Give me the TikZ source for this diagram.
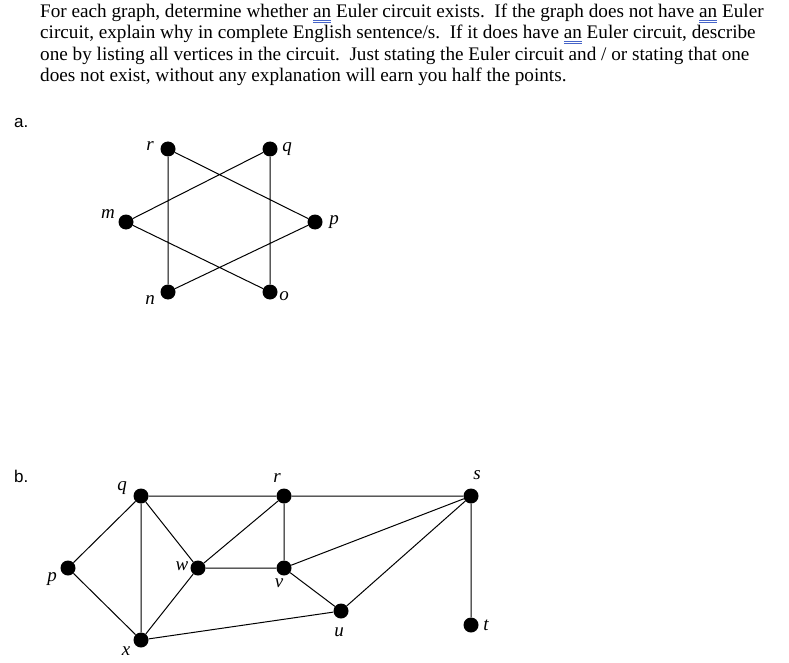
\documentclass[tikz,border=0pt]{standalone}
\usepackage{fontspec}
\setmainfont{Liberation Serif}
\newfontfamily\arialf{Liberation Sans}
\definecolor{gramblue}{RGB}{70,100,200}
\newlength\anwd
\newcommand\gan{\settowidth\anwd{an}\leavevmode\rlap{\color{gramblue}\rule[-2.5pt]{\anwd}{0.7pt}\hspace{-\anwd}\rule[-4.5pt]{\anwd}{0.7pt}}an}
\begin{document}
\begin{tikzpicture}[x=1pt,y=-1pt,
  vtx/.style={circle,fill=black,minimum size=15pt,inner sep=0pt},
  lbl/.style={font=\fontsize{19}{19}\selectfont\itshape,inner sep=0pt},
  txt/.style={font=\fontsize{19.2}{19.2}\selectfont,anchor=base west,inner sep=0pt},
  edge/.style={line width=1pt}]
\useasboundingbox (0,0) rectangle (789,663);
\node[txt] (l1) at (40,18) {For each graph, determine whether \gan{} Euler circuit exists.\ \ If the graph does not have \gan{} Euler};
\node[txt] (l2) at (40,39) {circuit, explain why in complete English sentence/s.\ \ If it does have \gan{} Euler circuit, describe};
\node[txt] (l3) at (40,61) {one by listing all vertices in the circuit.\ \ Just stating the Euler circuit and / or stating that one};
\node[txt] (l4) at (40,82) {does not exist, without any explanation will earn you half the points.};
\node[txt,font=\fontsize{17}{17}\selectfont\arialf] (a) at (14,128) {a.};
\node[txt,font=\fontsize{17}{17}\selectfont\arialf] (b) at (14,482) {b.};
% graph a
\node[vtx] (ar) at (168,149) {};
\node[vtx] (aq) at (270,149) {};
\node[vtx] (am) at (126,222) {};
\node[vtx] (ap) at (315,222) {};
\node[vtx] (an) at (168,292) {};
\node[vtx] (ao) at (270,292) {};
\draw[edge] (ar)--(an) (aq)--(ao) (ar)--(ap) (am)--(aq) (am)--(ao) (an)--(ap);
\node[lbl] (lr) at (150,146) {r};
\node[lbl] (lq) at (287,149) {q};
\node[lbl] (lm) at (108,214) {m};
\node[lbl] (lp) at (334,222) {p};
\node[lbl] (ln) at (150,300) {n};
\node[lbl] (lo) at (284,296) {o};
% graph b
\node[vtx] (q) at (141,496) {};
\node[vtx] (r) at (284,496) {};
\node[vtx] (s) at (471,496) {};
\node[vtx] (p) at (68,568) {};
\node[vtx] (w) at (198,568) {};
\node[vtx] (v) at (284,568) {};
\node[vtx] (u) at (341,611) {};
\node[vtx] (x) at (141,640) {};
\node[vtx] (t) at (471,625) {};
\draw[edge] (q)--(r) (r)--(s) (p)--(q) (p)--(x) (q)--(x) (q)--(w) (w)--(x) (w)--(r)
  (w)--(v) (r)--(v) (v)--(s) (v)--(u) (s)--(u) (s)--(t) (x)--(u);
\node[lbl] (bq) at (122,488) {q};
\node[lbl] (br) at (277,478) {r};
\node[lbl] (bs) at (477,475) {s};
\node[lbl] (bp) at (52,579) {p};
\node[lbl] (bw) at (182,566) {w};
\node[lbl] (bv) at (279,583) {v};
\node[lbl] (bu) at (339,632) {u};
\node[lbl] (bx) at (126,651) {x};
\node[lbl] (bt) at (486,625) {t};
\end{tikzpicture}
\end{document}
